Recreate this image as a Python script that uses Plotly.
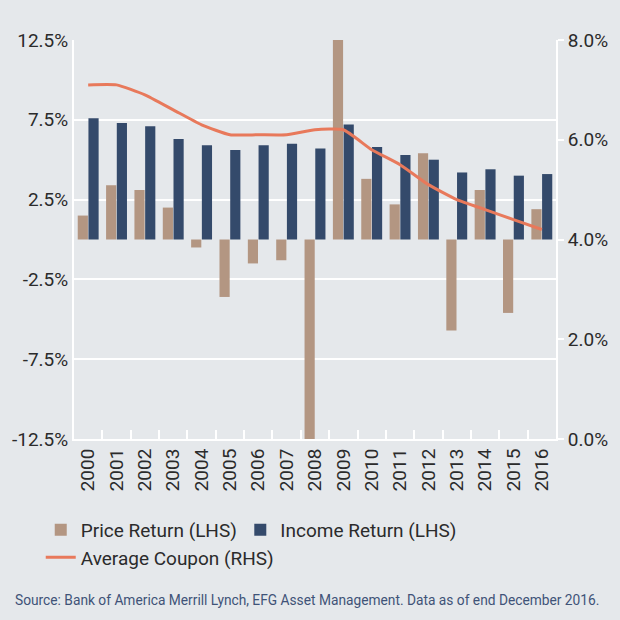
import plotly.graph_objects as go

years = [str(y) for y in range(2000, 2017)]
price_return = [1.5, 3.4, 3.1, 2.0, -0.5, -3.6, -1.5, -1.3, -12.5, 12.5, 3.8, 2.2, 5.4, -5.7, 3.1, -4.6, 1.9]
income_return = [7.6, 7.3, 7.1, 6.3, 5.9, 5.6, 5.9, 6.0, 5.7, 7.2, 5.8, 5.3, 5.0, 4.2, 4.4, 4.0, 4.1]
avg_coupon = [7.1, 7.1, 6.9, 6.6, 6.3, 6.1, 6.1, 6.1, 6.2, 6.2, 5.8, 5.5, 5.1, 4.8, 4.6, 4.4, 4.2]

left_ticks = [12.5, 7.5, 2.5, -2.5, -7.5, -12.5]
left_labels = ["12.5%", "7.5%", "2.5%", "-2.5%", "-7.5%", "-12.5%"]
right_ticks = [0, 2, 4, 6, 8]
right_labels = ["0.0%", "2.0%", "4.0%", "6.0%", "8.0%"]

BG = "#e5e8eb"
TAN = "#b39682"
NAVY = "#344a6b"
ORANGE = "#e8795b"
FONT = "Roboto"
TXT = "#2b2b2b"

fig = go.Figure()
fig.add_trace(go.Bar(x=years, y=price_return, name="Price Return (LHS)", legend="legend",
                     marker=dict(color=TAN, line=dict(width=0))))
fig.add_trace(go.Bar(x=years, y=income_return, name="Income Return (LHS)", legend="legend2",
                     marker=dict(color=NAVY, line=dict(width=0))))
fig.add_trace(go.Scatter(x=years, y=avg_coupon, name="Average Coupon (RHS)", yaxis="y2", legend="legend",
                         mode="lines", line=dict(color=ORANGE, width=3, shape="spline", smoothing=0.5)))

legend_common = dict(font=dict(family=FONT, size=19, color=TXT), bgcolor="rgba(0,0,0,0)",
                     traceorder="normal", itemwidth=30, tracegroupgap=0)

fig.update_layout(
    width=620, height=620,
    paper_bgcolor=BG, plot_bgcolor=BG,
    margin=dict(l=69, r=63, t=40, b=181),
    barmode="group", bargap=0.244, bargroupgap=0.05,
    font=dict(family=FONT, size=19, color=TXT),
    showlegend=True,
    legend=dict(orientation="v", x=-0.069, xanchor="left", y=-0.18, yanchor="top", **legend_common),
    legend2=dict(orientation="v", x=0.345, xanchor="left", y=-0.18, yanchor="top", **legend_common),
    xaxis=dict(type="category", tickangle=-90, showgrid=False, zeroline=False,
               showline=True, linecolor="white", linewidth=2,
               ticks="inside", tickson="boundaries", ticklen=9, tickcolor="white", tickwidth=2,
               tickfont=dict(family=FONT, size=19, color=TXT)),
    yaxis=dict(range=[-12.5, 12.5], tickvals=left_ticks, ticktext=left_labels,
               showgrid=True, gridcolor="white", gridwidth=2, zeroline=False,
               showline=True, linecolor="white", linewidth=2, ticks="",
               tickfont=dict(family=FONT, size=19, color=TXT)),
    yaxis2=dict(range=[0, 8], tickvals=right_ticks, ticktext=right_labels,
                overlaying="y", side="right", showgrid=False, zeroline=False,
                showline=True, linecolor="white", linewidth=2,
                ticks="outside", ticklen=6, tickcolor="white", tickwidth=2,
                tickfont=dict(family=FONT, size=19, color=TXT)),
    annotations=[dict(text="Source: Bank of America Merrill Lynch, EFG Asset Management. Data as of end December 2016.",
                      xref="paper", yref="paper", x=-0.127, y=-0.403, xanchor="left", yanchor="middle",
                      showarrow=False, font=dict(family=FONT, size=13.75, color="#3f5378"))],
)

fig.write_html("out.html")
